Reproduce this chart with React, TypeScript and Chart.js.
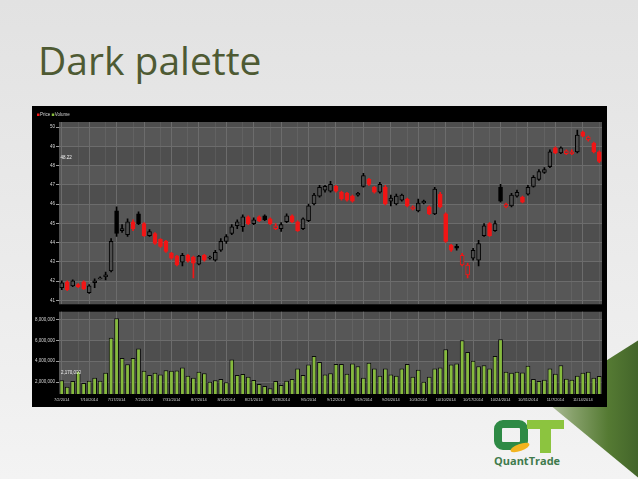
import React, { useEffect, useRef } from "react";
import { Chart, registerables } from "chart.js";
Chart.register(...registerables);

const dates = [
  "7/2/2014","7/3/2014","7/7/2014","7/8/2014","7/9/2014","7/10/2014","7/11/2014","7/14/2014","7/15/2014","7/16/2014",
  "7/17/2014","7/18/2014","7/21/2014","7/22/2014","7/23/2014","7/24/2014","7/25/2014","7/28/2014","7/29/2014","7/30/2014",
  "7/31/2014","8/1/2014","8/4/2014","8/5/2014","8/6/2014","8/7/2014","8/8/2014","8/11/2014","8/12/2014","8/13/2014",
  "8/14/2014","8/15/2014","8/18/2014","8/19/2014","8/20/2014","8/21/2014","8/22/2014","8/25/2014","8/26/2014","8/27/2014",
  "8/28/2014","8/29/2014","9/2/2014","9/3/2014","9/4/2014","9/5/2014","9/8/2014","9/9/2014","9/10/2014","9/11/2014",
  "9/12/2014","9/15/2014","9/16/2014","9/17/2014","9/18/2014","9/19/2014","9/22/2014","9/23/2014","9/24/2014","9/25/2014",
  "9/26/2014","9/29/2014","9/30/2014","10/1/2014","10/2/2014","10/3/2014","10/6/2014","10/7/2014","10/8/2014","10/9/2014",
  "10/10/2014","10/13/2014","10/14/2014","10/15/2014","10/16/2014","10/17/2014","10/20/2014","10/21/2014","10/22/2014","10/23/2014",
  "10/24/2014","10/27/2014","10/28/2014","10/29/2014","10/30/2014","10/31/2014","11/3/2014","11/4/2014","11/5/2014","11/6/2014",
  "11/7/2014","11/10/2014","11/11/2014","11/12/2014","11/13/2014","11/14/2014","11/17/2014","11/18/2014","11/19/2014",
];

const opens = [
  41.66, 41.97, 41.76, 41.82, 41.97, 41.41, 41.92, 42.12, 42.23, 42.53,
  45.65, 44.63, 44.42, 45.09, 45.50, 44.99, 44.37, 44.48, 44.17, 44.07,
  43.45, 43.30, 42.99, 43.35, 43.25, 42.89, 43.35, 43.20, 43.09, 43.61,
  44.07, 44.48, 44.88, 44.83, 45.35, 44.99, 45.35, 45.40, 45.24, 44.73,
  44.73, 45.09, 45.40, 45.09, 44.73, 45.14, 46.01, 46.42, 46.73, 46.68,
  46.93, 46.62, 46.57, 46.42, 46.47, 46.93, 47.29, 46.88, 46.62, 46.88,
  46.16, 46.01, 46.21, 46.27, 45.75, 45.65, 46.06, 45.86, 45.50, 46.52,
  45.50, 43.86, 43.81, 42.84, 42.33, 43.20, 43.09, 44.37, 44.99, 44.63,
  46.88, 45.86, 45.91, 46.42, 46.37, 46.52, 46.93, 47.29, 47.65, 47.95,
  48.93, 48.67, 48.62, 48.62, 48.72, 49.74, 49.34, 49.18, 48.72,
];
const highs = [
  42.02, 42.02, 42.07, 41.87, 42.02, 41.82, 42.12, 42.23, 42.48, 44.22,
  45.86, 44.94, 45.24, 45.19, 45.60, 45.04, 44.68, 44.53, 44.22, 44.12,
  43.50, 43.35, 43.45, 43.40, 43.30, 43.35, 43.40, 43.30, 43.61, 44.22,
  44.42, 44.94, 45.19, 45.45, 45.40, 45.29, 45.40, 45.45, 45.29, 44.99,
  45.04, 45.50, 45.45, 45.14, 45.29, 46.01, 46.57, 46.98, 46.98, 47.19,
  46.98, 46.68, 46.62, 46.47, 46.62, 47.60, 47.34, 46.93, 47.14, 46.98,
  46.47, 46.52, 46.52, 46.32, 45.91, 46.27, 46.21, 45.91, 46.88, 46.62,
  45.55, 43.91, 43.91, 43.45, 42.94, 43.71, 44.12, 44.99, 45.04, 45.14,
  47.03, 46.06, 46.57, 46.73, 46.42, 46.98, 47.49, 47.80, 47.90, 48.82,
  48.98, 48.98, 48.82, 48.82, 49.85, 49.80, 49.54, 49.23, 48.77,
];
const lows = [
  41.56, 41.51, 41.71, 41.66, 41.56, 41.36, 41.66, 42.12, 42.07, 42.48,
  44.32, 44.53, 44.32, 44.63, 44.94, 44.32, 44.32, 43.91, 43.76, 43.50,
  43.15, 42.79, 42.79, 42.99, 42.17, 42.84, 43.04, 43.15, 43.04, 43.55,
  43.96, 44.42, 44.73, 44.58, 44.94, 44.94, 45.09, 45.14, 44.94, 44.68,
  44.58, 45.04, 45.04, 44.58, 44.68, 45.09, 45.96, 46.37, 46.62, 46.62,
  46.62, 46.21, 46.16, 46.11, 46.42, 46.88, 46.98, 46.57, 46.57, 45.96,
  45.91, 45.96, 46.16, 45.86, 45.70, 45.60, 46.01, 45.45, 45.45, 45.81,
  44.02, 43.55, 43.61, 42.79, 42.17, 43.09, 42.79, 44.32, 44.32, 44.58,
  46.11, 45.81, 45.86, 46.37, 46.06, 46.47, 46.88, 47.24, 47.60, 47.90,
  48.62, 48.62, 48.57, 48.57, 48.67, 49.49, 49.28, 48.67, 48.16,
];
const closes = [
  41.92, 41.56, 42.02, 41.71, 41.61, 41.76, 42.02, 42.17, 42.33, 44.07,
  44.48, 44.73, 45.09, 44.73, 44.99, 44.37, 44.58, 43.96, 43.81, 43.55,
  43.20, 42.84, 43.35, 43.04, 42.94, 43.30, 43.09, 43.25, 43.50, 44.07,
  44.32, 44.83, 45.09, 45.35, 44.99, 45.19, 45.14, 45.19, 44.99, 44.88,
  44.94, 45.40, 45.09, 44.63, 45.24, 45.91, 46.47, 46.88, 46.93, 47.03,
  46.68, 46.27, 46.21, 46.16, 46.57, 47.49, 47.03, 46.62, 47.03, 46.01,
  46.32, 46.42, 46.47, 45.91, 45.86, 46.06, 46.16, 45.50, 46.78, 45.86,
  44.07, 43.61, 43.71, 43.35, 42.84, 43.61, 43.96, 44.88, 44.37, 44.99,
  46.16, 46.01, 46.47, 46.62, 46.11, 46.88, 47.39, 47.70, 47.80, 48.72,
  48.67, 48.93, 48.77, 48.72, 49.59, 49.54, 49.49, 48.72, 48.22,
];
const volumes = [
  2170000, 1550000, 2100000, 3080000, 1900000, 2120000, 2410000, 2120000, 2890000, 6260000,
  8120000, 4310000, 3710000, 4310000, 5210000, 3080000, 2670000, 2890000, 2730000, 3140000,
  3080000, 3100000, 3400000, 2600000, 2410000, 2980000, 2830000, 2030000, 2160000, 2290000,
  1970000, 4160000, 2670000, 2760000, 2500000, 2190000, 1810000, 1620000, 1400000, 2100000,
  1710000, 2120000, 2290000, 3300000, 2670000, 3690000, 4500000, 3930000, 2730000, 2830000,
  3740000, 3740000, 2790000, 3780000, 3520000, 2400000, 3840000, 3300000, 2600000, 3300000,
  2730000, 2600000, 3300000, 3740000, 2500000, 3170000, 2030000, 2500000, 3300000, 3400000,
  5140000, 3690000, 3780000, 6000000, 4890000, 4030000, 3520000, 3620000, 3300000, 4500000,
  6100000, 2980000, 2890000, 2980000, 2920000, 3550000, 2290000, 2100000, 2220000, 3300000,
  2790000, 3620000, 2310000, 2220000, 2600000, 2890000, 2980000, 2410000, 2570000,
];

const priceTicks = [41, 42, 43, 44, 45, 46, 47, 48, 49, 50];
const volumeTicks = [2000000, 4000000, 6000000, 8000000];
const priceMarker = 48.22;
const volumeMarker = 2170000;
const legendItems = ["Price", "Volume"];

const RED = "#f01616";
const BLACK = "#000000";
const GREEN = "#86bb3d";
const PLOT_BG = "#4e4e4e";
const BAND_BG = "#575757";
const GRID_MAJOR = "#6c6c6c";
const GRID_MINOR = "rgba(255,255,255,0.07)";
const LABEL = "#d6d6d6";
const FONT = "Liberation Sans, Arial, sans-serif";

const candleColors = closes.map((c, i) => (i > 0 && c < closes[i - 1] ? RED : BLACK));
const candleFills = closes.map((c, i) => (c < opens[i] ? candleColors[i] : PLOT_BG));

const bgPlugin = {
  id: "plotBg",
  beforeDraw(chart: any) {
    const { ctx, chartArea } = chart;
    const y = chart.scales.y;
    ctx.save();
    ctx.fillStyle = PLOT_BG;
    ctx.fillRect(chartArea.left, chartArea.top, chartArea.width, chartArea.height);
    const vals = [y.min, ...y.ticks.map((t: any) => t.value), y.max];
    for (let k = 0; k < vals.length - 1; k++) {
      if (k % 2 === 1) {
        const a = y.getPixelForValue(vals[k]);
        const b = y.getPixelForValue(vals[k + 1]);
        ctx.fillStyle = BAND_BG;
        ctx.fillRect(chartArea.left, Math.min(a, b), chartArea.width, Math.abs(b - a));
      }
    }
    ctx.restore();
  },
};

const priceOverlay = {
  id: "priceOverlay",
  afterDraw(chart: any) {
    const { ctx, chartArea } = chart;
    const y = chart.scales.y;
    ctx.save();
    ctx.font = `4.5px ${FONT}`;
    ctx.textBaseline = "middle";
    // legend
    let x = 5;
    const ly = 9;
    const cols = [RED, GREEN];
    legendItems.forEach((t, i) => {
      ctx.fillStyle = cols[i];
      ctx.fillRect(x, ly - 1.5, 2.5, 2.5);
      x += 3;
      ctx.fillStyle = LABEL;
      ctx.fillText(t, x, ly);
      x += ctx.measureText(t).width + 1.5;
    });
    // last price marker
    ctx.fillStyle = "#f2f2f2";
    ctx.textBaseline = "bottom";
    ctx.fillText(priceMarker.toFixed(2), chartArea.left + 1.5, y.getPixelForValue(priceMarker) - 1);
    ctx.restore();
  },
};

const volumeOverlay = {
  id: "volumeOverlay",
  afterDraw(chart: any) {
    const { ctx, chartArea } = chart;
    const y = chart.scales.y;
    ctx.save();
    ctx.font = `4.5px ${FONT}`;
    ctx.fillStyle = "#f2f2f2";
    ctx.textBaseline = "bottom";
    ctx.fillText(volumeMarker.toLocaleString("en-US"), chartArea.left + 2, y.getPixelForValue(volumeMarker) - 5);
    ctx.restore();
  },
};

const xGrid = {
  offset: false,
  drawTicks: false,
  color: (c: any) => (c.index % 5 === 0 ? GRID_MAJOR : c.index % 5 === 3 ? GRID_MINOR : "rgba(0,0,0,0)"),
};

export default function App() {
  const priceRef = useRef<HTMLCanvasElement>(null);
  const volRef = useRef<HTMLCanvasElement>(null);

  useEffect(() => {
    const c1 = new Chart(priceRef.current as HTMLCanvasElement, {
      type: "bar",
      data: {
        labels: dates,
        datasets: [
          {
            label: "wick",
            data: lows.map((l, i) => [l, highs[i]]) as any,
            backgroundColor: candleColors,
            borderWidth: 0,
            barThickness: 1,
            grouped: false,
            order: 2,
          },
          {
            label: "body",
            data: opens.map((o, i) => [o, closes[i]]) as any,
            backgroundColor: candleFills,
            borderColor: candleColors,
            borderWidth: 1,
            borderSkipped: false,
            barThickness: 4,
            grouped: false,
            order: 1,
          },
        ],
      },
      options: {
        responsive: false,
        animation: false,
        devicePixelRatio: 1,
        layout: { padding: { top: 16, right: 5, bottom: 1, left: 0 } },
        plugins: { legend: { display: false }, tooltip: { enabled: false } },
        scales: {
          x: {
            offset: true,
            grid: xGrid as any,
            border: { display: false },
            ticks: { display: false, autoSkip: false },
          },
          y: {
            min: 40.8,
            max: 50.27,
            afterBuildTicks: (s: any) => {
              s.ticks = priceTicks.map((v) => ({ value: v }));
            },
            afterFit: (s: any) => {
              s.width = 27;
            },
            grid: { color: GRID_MAJOR, tickLength: 3, tickColor: "#9a9a9a" },
            border: { display: false },
            ticks: { color: LABEL, font: { size: 4.5, family: FONT }, padding: 1, callback: (v: any) => String(v) },
          },
        },
      },
      plugins: [bgPlugin, priceOverlay],
    });

    const c2 = new Chart(volRef.current as HTMLCanvasElement, {
      type: "bar",
      data: {
        labels: dates,
        datasets: [
          {
            label: "Volume",
            data: volumes,
            backgroundColor: GREEN,
            borderColor: "#0a0a0a",
            borderWidth: 1,
            barPercentage: 0.86,
            categoryPercentage: 1,
          },
        ],
      },
      options: {
        responsive: false,
        animation: false,
        devicePixelRatio: 1,
        layout: { padding: { top: 3, right: 5, bottom: 0, left: 0 } },
        plugins: { legend: { display: false }, tooltip: { enabled: false } },
        scales: {
          x: {
            offset: true,
            grid: xGrid as any,
            border: { display: false },
            afterFit: (s: any) => {
              s.height = 13;
            },
            ticks: {
              autoSkip: false,
              maxRotation: 0,
              minRotation: 0,
              padding: 3,
              color: LABEL,
              font: { size: 4, family: FONT },
              callback: (_v: any, i: number) => (i % 5 === 0 ? dates[i] : ""),
            },
          },
          y: {
            min: 850000,
            max: 8750000,
            afterBuildTicks: (s: any) => {
              s.ticks = volumeTicks.map((v) => ({ value: v }));
            },
            afterFit: (s: any) => {
              s.width = 27;
            },
            grid: { color: GRID_MAJOR, tickLength: 3, tickColor: "#9a9a9a" },
            border: { display: false },
            ticks: {
              color: LABEL,
              font: { size: 4.5, family: FONT },
              padding: 1,
              callback: (v: any) => Number(v).toLocaleString("en-US"),
            },
          },
        },
      },
      plugins: [bgPlugin, volumeOverlay],
    });

    return () => {
      c1.destroy();
      c2.destroy();
    };
  }, []);

  return (
    <div
      style={{
        position: "fixed",
        left: 0,
        top: 0,
        width: 638,
        height: 479,
        overflow: "hidden",
        background: "linear-gradient(#e2e2e2, #ececec 60%, #f3f3f3)",
      }}
    >
      <div
        style={{
          position: "absolute",
          left: 538,
          top: 330,
          width: 100,
          height: 149,
          clipPath: "polygon(100% 7%, 6% 47%, 100% 99%)",
          background: "linear-gradient(to right, #c3cbb5 0%, #86a06a 35%, #557a33 70%, #43652a 100%)",
        }}
      />
      <div
        style={{
          position: "absolute",
          left: 38,
          top: 40,
          fontFamily: "'Open Sans', sans-serif",
          fontSize: 39,
          lineHeight: 1,
          color: "#4e5a33",
          whiteSpace: "nowrap",
        }}
      >
        Dark palette
      </div>
      <div style={{ position: "absolute", left: 32, top: 106, width: 575, height: 301, background: "#000" }}>
        <canvas ref={priceRef} width={575} height={202} style={{ position: "absolute", left: 0, top: 0 }} />
        <canvas ref={volRef} width={575} height={99} style={{ position: "absolute", left: 0, top: 202 }} />
      </div>
      {/* QuantTrade logo */}
      <div
        style={{
          position: "absolute",
          left: 494,
          top: 420,
          width: 34,
          height: 30,
          boxSizing: "border-box",
          border: "8px solid #2e8a45",
          borderRadius: 9,
        }}
      />
      <div
        style={{
          position: "absolute",
          left: 510,
          top: 444,
          width: 20,
          height: 7,
          background: "#f2b41f",
          borderRadius: "50%",
          transform: "rotate(-20deg)",
        }}
      />
      <div style={{ position: "absolute", left: 527, top: 420, width: 37, height: 9, background: "#8cc43f" }} />
      <div style={{ position: "absolute", left: 540, top: 420, width: 11, height: 33, background: "#8cc43f" }} />
      <div
        style={{
          position: "absolute",
          left: 494,
          top: 453,
          fontFamily: "'Open Sans', sans-serif",
          fontWeight: 700,
          fontSize: 11,
          color: "#3f7a4c",
          whiteSpace: "nowrap",
        }}
      >
        QuantTrade
      </div>
    </div>
  );
}
